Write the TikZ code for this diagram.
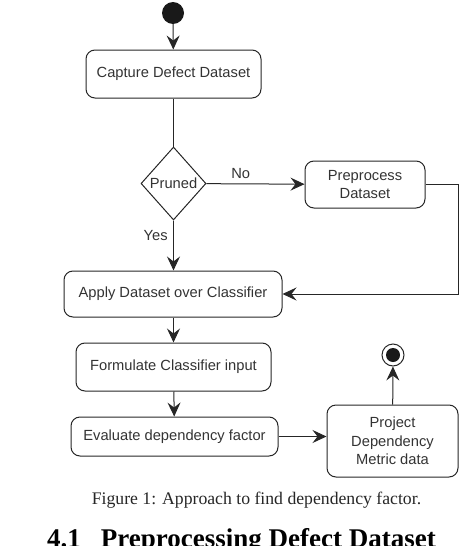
\documentclass[tikz,border=0pt]{standalone}
\usepackage{fontspec}
\setmainfont{Liberation Serif}
\newfontfamily\diagfont{Liberation Sans}
\usetikzlibrary{arrows.meta,shapes.geometric}

\tikzset{
  actbox/.style={draw=black!85, line width=1pt, rounded corners=9pt, align=center,
    text=black!80, font=\diagfont\fontsize{14.7}{18.5}\selectfont},
  decision/.style={draw=black!85, line width=1pt, diamond, inner sep=0pt,
    text=black!80, font=\diagfont\fontsize{14.7}{18.5}\selectfont},
  flow/.style={draw=black!85, line width=1pt, -{Stealth[length=14pt,width=13pt,inset=5pt]}},
  guard/.style={text=black!80, font=\diagfont\fontsize{14.7}{18.5}\selectfont},
}

\begin{document}
\begin{tikzpicture}[x=1pt, y=-1pt]
  \useasboundingbox (0,0) rectangle (474,546);
  \clip (0,0) rectangle (474,546);

  % start and end states
  \node[circle, fill=black!90, minimum size=22pt, inner sep=0pt] (start) at (173,13) {};
  \node[circle, draw=black!85, line width=1pt, minimum size=22pt, inner sep=0pt] (finish) at (393,355) {};
  \node[circle, fill=black!90, minimum size=14pt, inner sep=0pt] (finishdot) at (finish) {};

  % activities
  \node[actbox, minimum width=175pt, minimum height=48pt] (capture) at (173.5,74) {Capture Defect Dataset};
  \node[decision, minimum width=65pt, minimum height=73pt] (pruned) at (173.5,183.5) {Pruned};
  \node[actbox, minimum width=120pt, minimum height=47pt] (prep) at (365,184.5) {Preprocess\\Dataset};
  \node[actbox, minimum width=218pt, minimum height=46pt] (apply) at (173,294) {Apply Dataset over Classifier};
  \node[actbox, minimum width=195pt, minimum height=48pt] (formulate) at (173.5,367) {Formulate Classifier input};
  \node[actbox, minimum width=207pt, minimum height=39pt] (evaluate) at (174.5,436.5) {Evaluate dependency factor};
  \node[actbox, minimum width=131pt, minimum height=72pt] (project) at (392.5,441) {Project\\Dependency\\Metric data};

  % connectors
  \draw[flow] (start) -- (capture);
  \draw[draw=black!85, line width=1pt] (capture) -- (pruned);
  \draw[flow] (pruned) -- node[guard, above, pos=0.35, yshift=1pt] (nolabel) {No} (prep);
  \draw[flow] (pruned) -- node[guard, left, pos=0.3, xshift=-2pt] (yeslabel) {Yes} (apply.north -| pruned);
  \draw[flow] (prep.east) -- ++(33,0) |- (apply.east);
  \draw[flow] (apply.south -| formulate) -- (formulate);
  \draw[flow] (formulate) -- (evaluate);
  \draw[flow] (evaluate) -- (project.west |- evaluate);
  \draw[flow] (project) -- (finish);

  % caption and heading
  \node[anchor=base, font=\fontsize{17.7}{21}\selectfont, text=black!85] (caption) at (256.5,504) {Figure 1: Approach to find dependency factor.};
  \node[anchor=base west, font=\bfseries\fontsize{27}{32}\selectfont, inner sep=0pt] (heading) at (47,547) {4.1\hspace{20pt}Preprocessing Defect Dataset};
\end{tikzpicture}
\end{document}
